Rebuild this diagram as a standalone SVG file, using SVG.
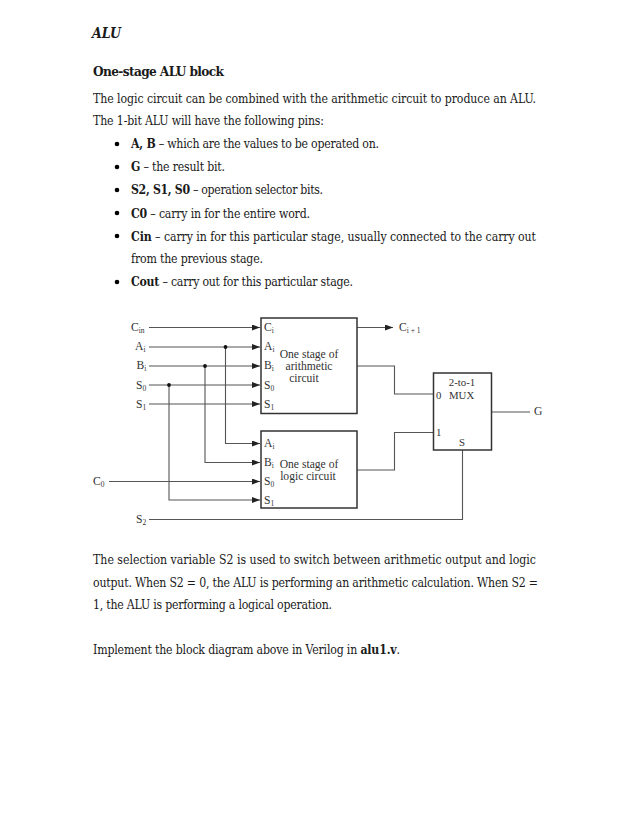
<svg xmlns="http://www.w3.org/2000/svg" width="627" height="825" viewBox="0 0 627 825">
<style>
.t{font-family:"DejaVu Serif Condensed","Liberation Serif",serif;font-size:12.2px;fill:#1a1a1a}
.b{font-weight:bold}
.d{font-family:"Liberation Serif",serif;font-size:11.6px;fill:#333}
.m{font-size:10.8px}
.s{font-size:7.5px}
.box{fill:#fff;stroke:#333;stroke-width:1.5}
.w{fill:none;stroke:#555;stroke-width:1.1}
</style>
<defs><marker id="a" viewBox="0 0 8 6" refX="8" refY="3" markerWidth="8" markerHeight="6" markerUnits="userSpaceOnUse" orient="auto"><path d="M0 0L8 3L0 6z" fill="#222"/></marker></defs>
<rect width="627" height="825" fill="#fff"/>
<g id="text">
<text class="t b" x="92" y="38" font-style="italic" style="font-size:14px" textLength="29">ALU</text>
<text class="t b" x="93" y="76" style="font-size:13.5px" textLength="131">One-stage ALU block</text>
<text class="t" x="93" y="103" textLength="443">The logic circuit can be combined with the arithmetic circuit to produce an ALU.</text>
<text class="t" x="93" y="125" textLength="231">The 1-bit ALU will have the following pins:</text>
<text class="t" x="131" y="148" textLength="248"><tspan class="b">A, B</tspan> – which are the values to be operated on.</text>
<text class="t" x="131" y="171" textLength="94"><tspan class="b">G</tspan> – the result bit.</text>
<text class="t" x="131" y="194" textLength="192"><tspan class="b">S2, S1, S0</tspan> – operation selector bits.</text>
<text class="t" x="131" y="218" textLength="179"><tspan class="b">C0</tspan> – carry in for the entire word.</text>
<text class="t" x="131" y="241" textLength="405"><tspan class="b">Cin</tspan> – carry in for this particular stage, usually connected to the carry out</text>
<text class="t" x="131" y="263" textLength="132">from the previous stage.</text>
<text class="t" x="131" y="286" textLength="222"><tspan class="b">Cout</tspan> – carry out for this particular stage.</text>
<text class="t" x="93" y="564" textLength="443">The selection variable S2 is used to switch between arithmetic output and logic</text>
<text class="t" x="93" y="587" textLength="445">output. When S2 = 0, the ALU is performing an arithmetic calculation. When S2 =</text>
<text class="t" x="93" y="609" textLength="239">1, the ALU is performing a logical operation.</text>
<text class="t" x="93" y="654" textLength="307">Implement the block diagram above in Verilog in <tspan class="b">alu1.v</tspan>.</text>
<circle cx="117" cy="144" r="2.3"/><circle cx="117" cy="167" r="2.3"/><circle cx="117" cy="190" r="2.3"/><circle cx="117" cy="213" r="2.3"/><circle cx="117" cy="236" r="2.3"/><circle cx="117" cy="282" r="2.3"/>
</g>
<g id="connectors">
<path class="w" marker-end="url(#a)" d="M149 327.5H260"/>
<path class="w" marker-end="url(#a)" d="M149 347H260"/>
<path class="w" marker-end="url(#a)" d="M149 366H260"/>
<path class="w" marker-end="url(#a)" d="M149 385H260"/>
<path class="w" marker-end="url(#a)" d="M149 404H260"/>
<path class="w" marker-end="url(#a)" d="M225.5 347V443.5H260"/>
<path class="w" marker-end="url(#a)" d="M205 366V462.5H260"/>
<path class="w" marker-end="url(#a)" d="M109 481.5H260"/>
<path class="w" marker-end="url(#a)" d="M169 385V500H260"/>
<path class="w" marker-end="url(#a)" d="M357 327.5H393"/>
<path class="w" d="M357 366H394.5V394H433"/>
<path class="w" d="M357 470H394.5V432.5H433"/>
<path class="w" d="M491 412H530"/>
<path class="w" d="M149 519.5H462.5V450"/>
<circle cx="225.5" cy="347" r="1.9" fill="#111"/><circle cx="205" cy="366" r="1.9" fill="#111"/><circle cx="169" cy="385" r="1.9" fill="#111"/>
</g>
<g id="inputs">
<text class="d" x="131" y="331">C<tspan class="s" dy="2">in</tspan></text>
<text class="d" x="135" y="350">A<tspan class="s" dy="2">i</tspan></text>
<text class="d" x="136.500" y="369">B<tspan class="s" dy="2">i</tspan></text>
<text class="d" x="136" y="389">S<tspan class="s" dy="2">0</tspan></text>
<text class="d" x="136" y="408">S<tspan class="s" dy="2">1</tspan></text>
<text class="d" x="136" y="523">S<tspan class="s" dy="2">2</tspan></text>
<text class="d" x="93" y="485">C<tspan class="s" dy="2">0</tspan></text>
<text class="d" x="399" y="331">C<tspan class="s" dy="2">i + 1</tspan></text>
<text class="d" x="534" y="415">G</text>
</g>
<g id="arith"><rect class="box" x="261" y="318" width="96" height="95.5"/>
<text class="d" x="264" y="331">C<tspan class="s" dy="2">i</tspan></text>
<text class="d" x="264" y="350">A<tspan class="s" dy="2">i</tspan></text>
<text class="d" x="264" y="369">B<tspan class="s" dy="2">i</tspan></text>
<text class="d" x="264" y="389">S<tspan class="s" dy="2">0</tspan></text>
<text class="d" x="264" y="408">S<tspan class="s" dy="2">1</tspan></text>
<text class="d" x="309" y="358" text-anchor="middle">One stage of</text>
<text class="d" x="309" y="370" text-anchor="middle">arithmetic</text>
<text class="d" x="304" y="382" text-anchor="middle">circuit</text>
</g>
<g id="logic"><rect class="box" x="261" y="431" width="96" height="77"/>
<text class="d" x="264" y="447">A<tspan class="s" dy="2">i</tspan></text>
<text class="d" x="264" y="466">B<tspan class="s" dy="2">i</tspan></text>
<text class="d" x="264" y="485">S<tspan class="s" dy="2">0</tspan></text>
<text class="d" x="264" y="504">S<tspan class="s" dy="2">1</tspan></text>
<text class="d" x="309" y="468" text-anchor="middle">One stage of</text>
<text class="d" x="308" y="480" text-anchor="middle">logic circuit</text>
</g>
<g id="mux"><rect class="box" x="433.5" y="373" width="58" height="77"/>
<text class="d m" x="462" y="386" text-anchor="middle">2-to-1</text>
<text class="d m" x="436" y="398.500">0</text>
<text class="d m" x="449" y="398.500">MUX</text>
<text class="d m" x="436" y="436">1</text>
<text class="d m" x="462" y="446" text-anchor="middle">S</text>
</g>
</svg>
